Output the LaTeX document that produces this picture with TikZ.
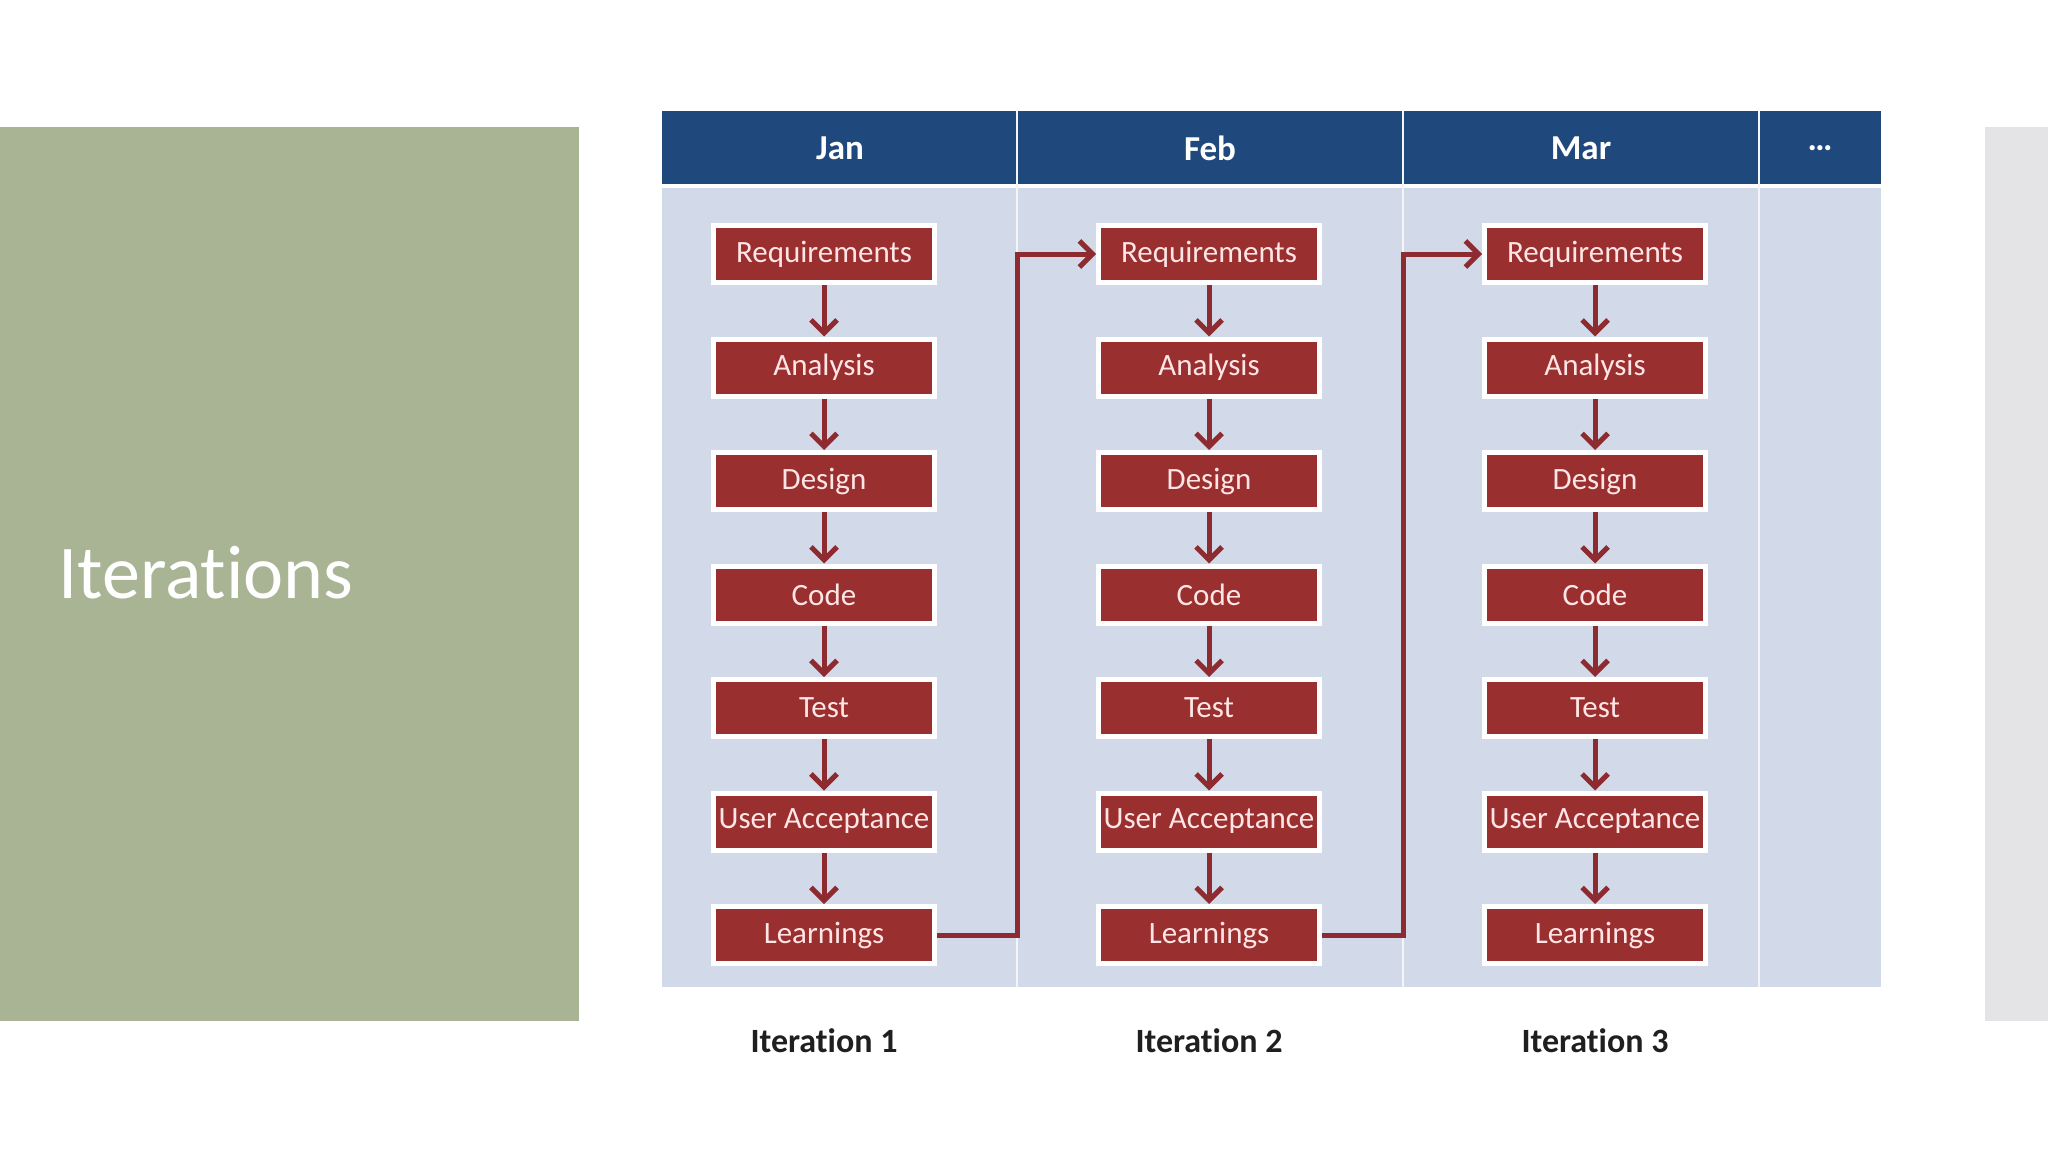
\documentclass[tikz,border=0pt]{standalone}
\usepackage{fontspec}
\setmainfont{Carlito}[Ligatures=NoCommon]
\usetikzlibrary{arrows.meta}
\usetikzlibrary{shadows}
\definecolor{sage}{HTML}{A8B494}
\definecolor{hdrblue}{HTML}{1F497D}
\definecolor{bodyblue}{HTML}{D2D9E8}
\definecolor{stepred}{HTML}{9A2F2F}
\definecolor{arrowred}{HTML}{8E2B30}
\definecolor{sidegray}{HTML}{E4E3E6}
\tikzset{stepbox/.style={rectangle,fill=stepred,draw=white,line width=2.5pt,
           minimum width=110.5pt,minimum height=28.5pt,inner sep=0pt,text=white!90!red,
           font=\fontsize{15.5}{18}\selectfont,
           drop shadow={shadow xshift=1pt,shadow yshift=-1.2pt,opacity=0.3,fill=black!60}},
         flow/.style={draw=arrowred,line width=2.5pt,-{Straight Barb[length=6.5pt,width=13pt]}},
         hdr/.style={text=white,font=\bfseries\fontsize{17.5}{20}\selectfont},
         itlab/.style={text=black!88,font=\bfseries\fontsize{17}{20}\selectfont},
         divline/.style={draw=white!75!bodyblue,line width=1pt}
         }
\begin{document}
\begin{tikzpicture}[x=0.5pt,y=-0.5pt]
  \fill[white] (0,0) rectangle (2048,1152);
  \useasboundingbox (0,0) rectangle (2048,1152);

  % side panels
  \fill[sage] (0,127) rectangle (579,1021);
  \fill[sidegray] (1985,127) rectangle (2048,1021);
  \node[anchor=base west,inner sep=0pt,text=white,font=\fontsize{38}{44}\selectfont] (title) at (58,598) {Iterations};

  % table
  \fill[hdrblue] (662,111) rectangle (1881,184);
  \fill[bodyblue] (662,188) rectangle (1881,987);
  \foreach \x in {1017,1403,1759}
    \draw[divline] (\x,111) -- (\x,987);
  \foreach \m/\x [count=\c] in {Jan/840,Feb/1210,Mar/1581,\ldots/1820}
    \node[hdr] (m\c) at (\x,148) {\m};

  % the three iterations
  \foreach \c/\x in {1/824,2/1209,3/1595}{
    \foreach \s [count=\k] in {Requirements,Analysis,Design,Code,Test,User Acceptance,Learnings}
      \node[stepbox] (st\c-\k) at (\x,{254+113.5*(\k-1)}) {\s};
    \foreach \k [evaluate=\k as \n using int(\k+1)] in {1,...,6}
      \draw[flow] (st\c-\k) -- (st\c-\n);
    \node[itlab] (it\c) at (\x,1041) {Iteration \c};
  }

  \coordinate (d1) at (1017,188);
  \coordinate (d2) at (1403,188);
  \draw[flow] (st1-7.east) -- (st1-7.east -| d1) |- (st2-1.west);
  \draw[flow] (st2-7.east) -- (st2-7.east -| d2) |- (st3-1.west);
\end{tikzpicture}
\end{document}
